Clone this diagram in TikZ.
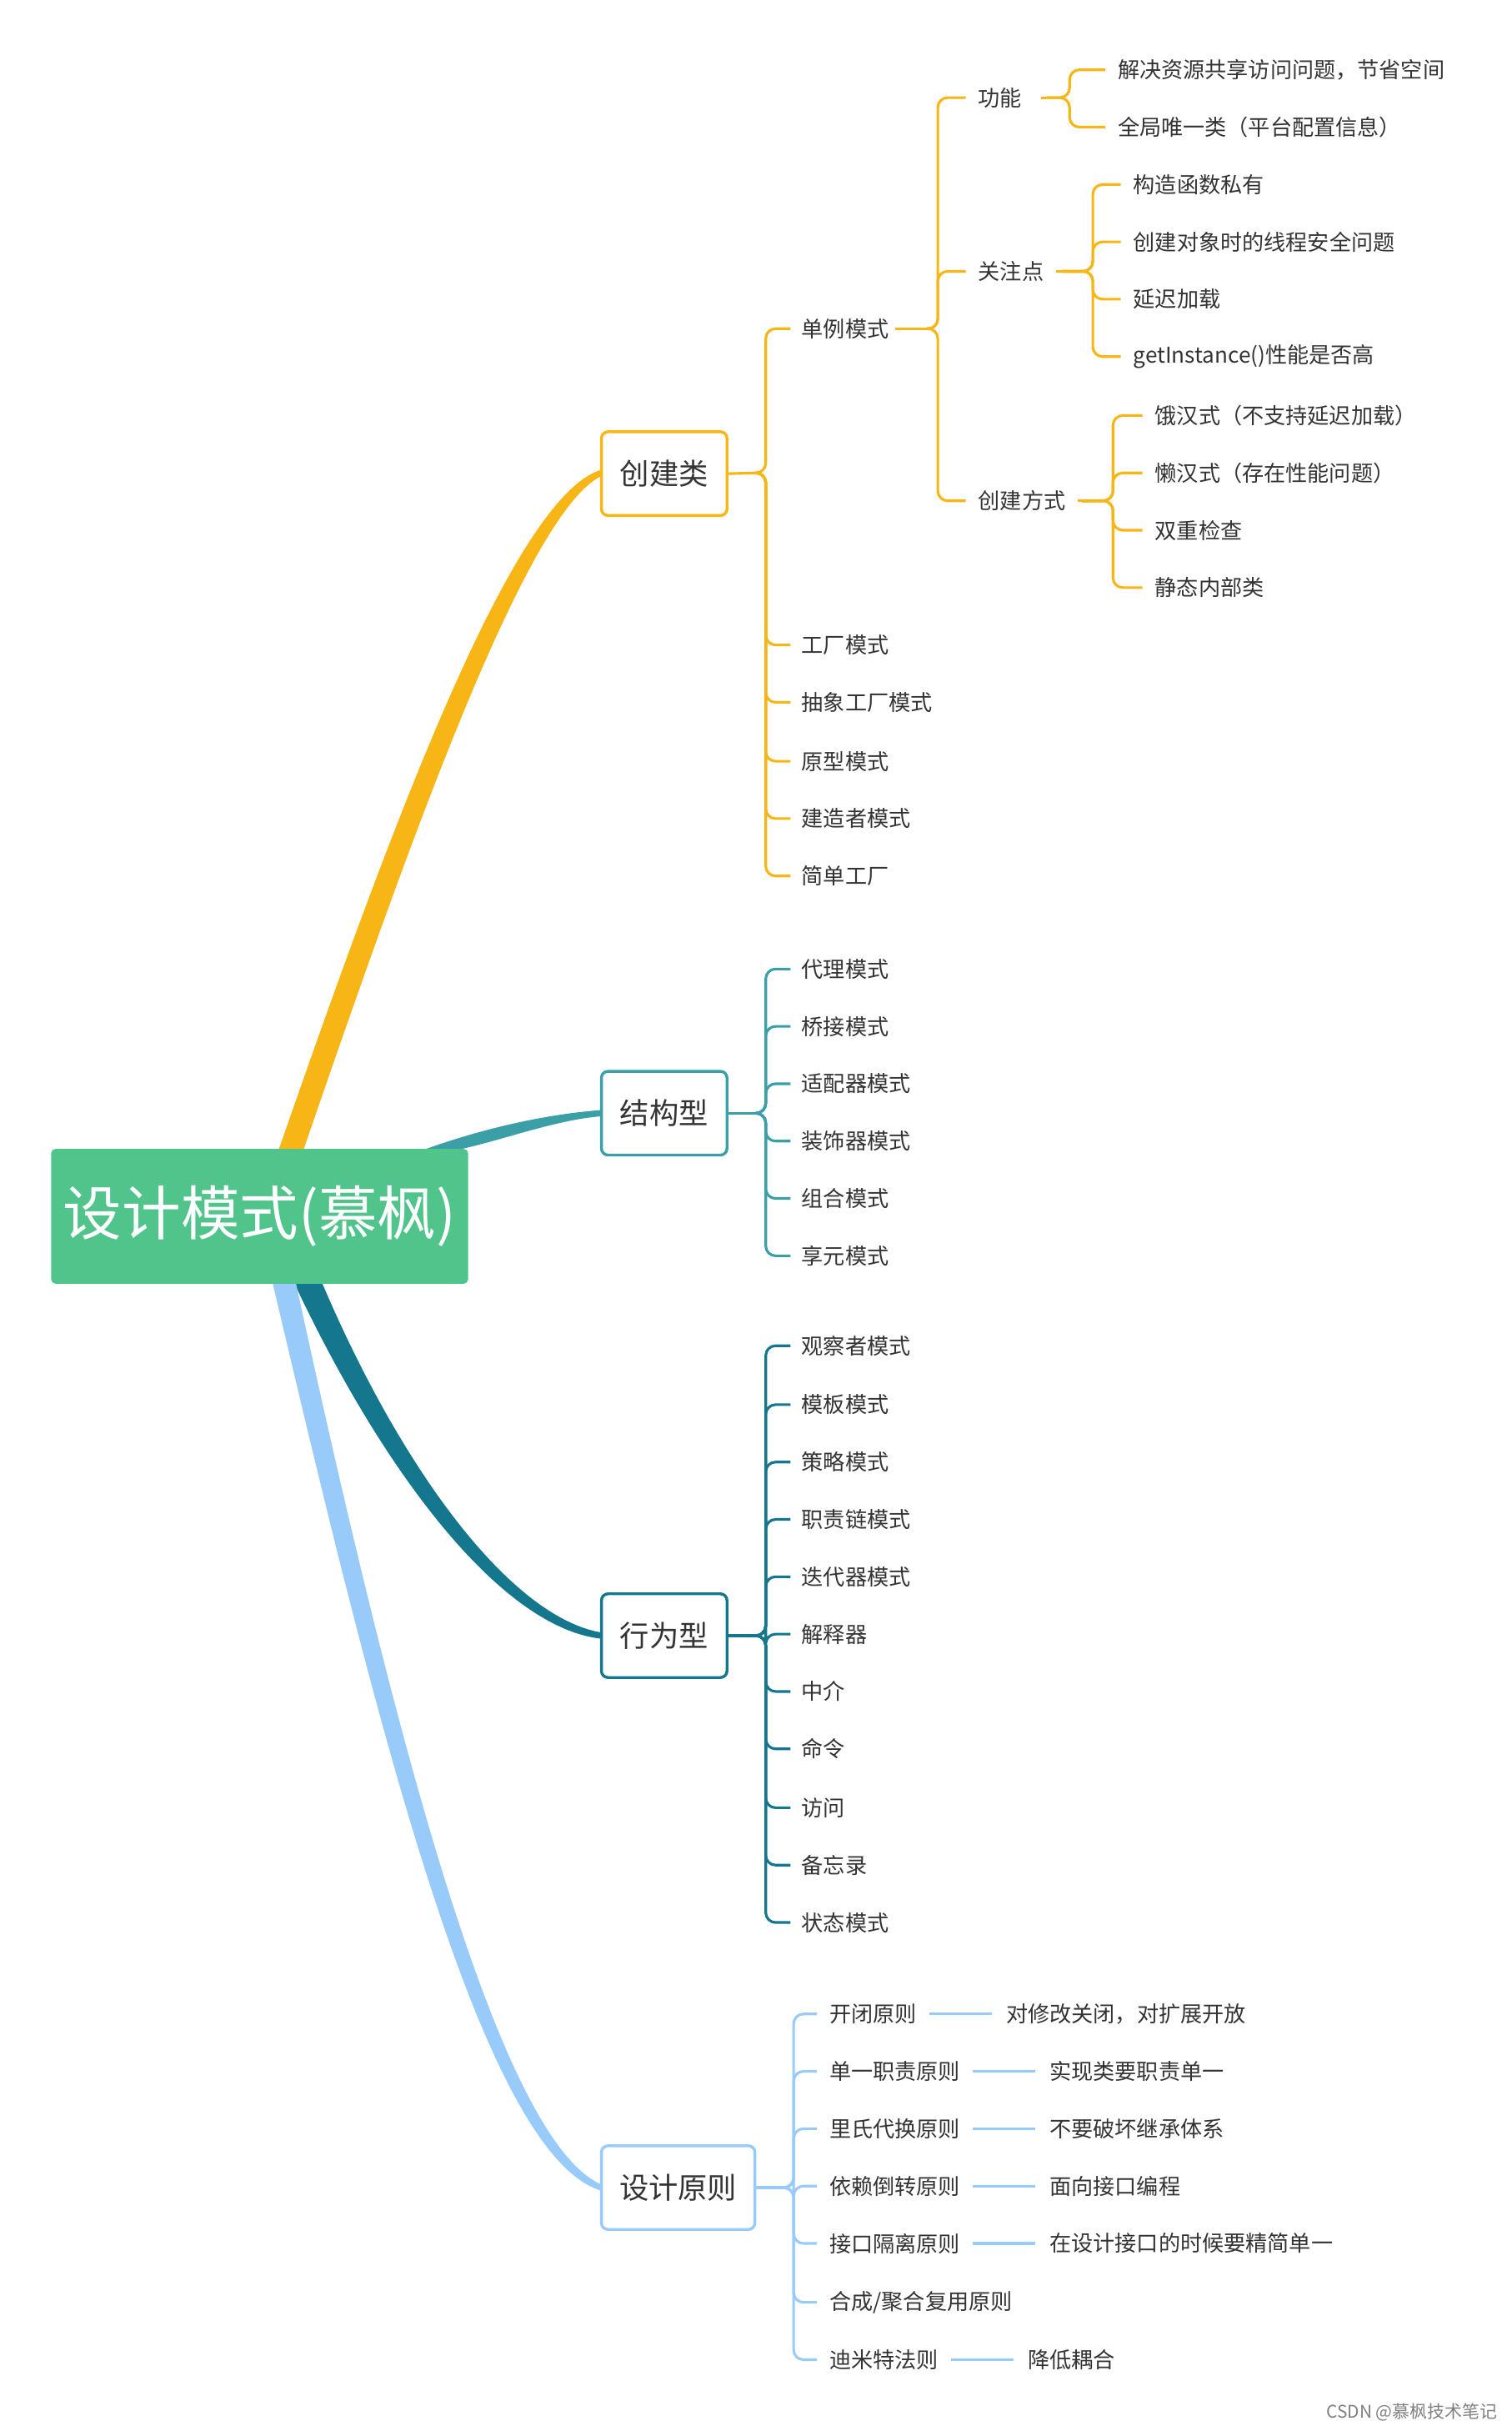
\documentclass[tikz,border=0pt]{standalone}
\usepackage{fontspec}
\setmainfont{Noto Sans CJK SC}
\usetikzlibrary{calc}
\definecolor{corange}{HTML}{F8B516}
\definecolor{cteal}{HTML}{3A9FA6}
\definecolor{cdark}{HTML}{15778E}
\definecolor{clight}{HTML}{99CBFA}
\definecolor{cgreen}{HTML}{51C48B}
\definecolor{ctext}{HTML}{333333}
\begin{document}
\begin{tikzpicture}[x=0.05cm,y=-0.05cm,
  leaf/.style={anchor=west,inner sep=0pt,text=ctext,font=\fontsize{20}{24}\selectfont},
  cat/.style={draw=#1,line width=2.6pt,rounded corners=6pt,text=ctext,minimum height=2.7cm,inner xsep=12pt,font=\fontsize{27}{32}\selectfont},
  br/.style={draw=#1,line width=2.4pt,rounded corners=9pt}]
\useasboundingbox (0,0) rectangle (975,1568);
% main branches
\fill[corange] (180,741) .. controls (250,540) and (330,320) .. (388,303) -- (388,307) .. controls (340,330) and (265,540) .. (196,741) -- cycle;
\fill[cteal] (275,741) .. controls (320,725) and (360,718) .. (388,716) -- (388,720) .. controls (360,722) and (325,735) .. (298,741) -- cycle;
\fill[cdark] (190,828) .. controls (250,955) and (325,1050) .. (388,1057) -- (388,1053) .. controls (330,1043) and (260,950) .. (208,828) -- cycle;
\fill[clight] (176,828) .. controls (240,1100) and (310,1390) .. (388,1413) -- (388,1409) .. controls (320,1380) and (250,1100) .. (191,828) -- cycle;
\node[fill=cgreen,rounded corners=4pt,minimum width=13.45cm,minimum height=4.35cm,text=white,font=\fontsize{54}{60}\selectfont] (root) at (167.5,784.5) {设计模式(慕枫)};
\node[cat=corange,minimum width=4.05cm] (A) at (428.5,305.5) {创建类};
\node[cat=cteal,minimum width=4.05cm] (B) at (428.5,718) {结构型};
\node[cat=cdark,minimum width=4.05cm] (C) at (428.5,1055) {行为型};
\node[cat=clight,minimum width=4.95cm] (D) at (437.5,1411) {设计原则};
% creational
\coordinate (fA) at (488,305);
\draw[br=corange] (A.east) -- (fA);
\foreach \y/\t [count=\i] in {212/单例模式,416/工厂模式,453/抽象工厂模式,491/原型模式,528/建造者模式,565/简单工厂}{
  \node[leaf] (a\i) at (517,\y) {\t};
  \draw[br=corange] (fA) -- ++(6,0) |- ($(a\i.west)+(-7,0)$);}
\coordinate (fS) at (598,212);
\draw[br=corange] (a1.east)++(4,0) -- (fS);
\node[leaf] (s1) at (631,63) {功能};
\node[leaf] (s2) at (631,175) {关注点};
\node[leaf] (s3) at (631,323) {创建方式};
\foreach \i in {1,2,3}{\draw[br=corange] (fS) -- ++(7,0) |- ($(s\i.west)+(-8,0)$);}
\coordinate (f1) at (675,63);
\draw[br=corange] ($(s1.east)+(12,0)$) -- (f1);
\foreach \y/\t [count=\i] in {45/解决资源共享访问问题，节省空间,82/全局唯一类（平台配置信息）}{
  \node[leaf] (g\i) at (721,\y) {\t};
  \draw[br=corange] (f1) -- ++(15,0) |- ($(g\i.west)+(-8,0)$);}
\coordinate (f2) at (685,175);
\draw[br=corange] ($(s2.east)+(8,0)$) -- (f2);
\foreach \y/\t [count=\i] in {119/构造函数私有,156/创建对象时的线程安全问题,193/延迟加载,230/getInstance()性能是否高}{
  \node[leaf] (h\i) at (731,\y) {\t};
  \draw[br=corange] (f2) -- ++(20,0) |- ($(h\i.west)+(-8,0)$);}
\coordinate (f3) at (698,323);
\draw[br=corange] ($(s3.east)+(8,0)$) -- (f3);
\foreach \y/\t [count=\i] in {268/饿汉式（不支持延迟加载）,305/懒汉式（存在性能问题）,342/双重检查,379/静态内部类}{
  \node[leaf] (k\i) at (745,\y) {\t};
  \draw[br=corange] (f3) -- ++(20,0) |- ($(k\i.west)+(-8,0)$);}
% structural
\coordinate (fB) at (488,718);
\draw[br=cteal] (B.east) -- (fB);
\foreach \y/\t [count=\i] in {625/代理模式,662/桥接模式,699/适配器模式,736/装饰器模式,773/组合模式,810/享元模式}{
  \node[leaf] (b\i) at (517,\y) {\t};
  \draw[br=cteal] (fB) -- ++(6,0) |- ($(b\i.west)+(-7,0)$);}
% behavioral
\coordinate (fC) at (488,1055);
\draw[br=cdark] (C.east) -- (fC);
\foreach \y/\t [count=\i] in {868/观察者模式,906/模板模式,943/策略模式,980/职责链模式,1017/迭代器模式,1054/解释器,1091/中介,1128/命令,1166/访问,1203/备忘录,1240/状态模式}{
  \node[leaf] (c\i) at (517,\y) {\t};
  \draw[br=cdark] (fC) -- ++(6,0) |- ($(c\i.west)+(-7,0)$);}
% principles
\coordinate (fD) at (505,1411);
\draw[br=clight] (D.east) -- (fD);
\foreach \y/\t [count=\i] in {1299/开闭原则,1336/单一职责原则,1373/里氏代换原则,1410/依赖倒转原则,1447/接口隔离原则,1485/{合成/聚合复用原则},1522/迪米特法则}{
  \node[leaf] (d\i) at (535,\y) {\t};
  \draw[br=clight] (fD) -- ++(7,0) |- ($(d\i.west)+(-8,0)$);}
\node[leaf] (e1) at (649,1299) {对修改关闭，对扩展开放};
\node[leaf] (e2) at (677,1336) {实现类要职责单一};
\node[leaf] (e3) at (677,1373) {不要破坏继承体系};
\node[leaf] (e4) at (677,1410) {面向接口编程};
\node[leaf] (e5) at (677,1447) {在设计接口的时候要精简单一};
\node[leaf] (e7) at (663,1522) {降低耦合};
\foreach \i in {1,2,3,4,5,7}{\draw[br=clight] ($(d\i.east)+(8,0)$) -- ($(e\i.west)+(-9,0)$);}
\node[anchor=east,inner sep=0pt,text=gray,font=\fontsize{16}{18}\selectfont] (foot) at (966,1556) {CSDN @慕枫技术笔记};
\end{tikzpicture}
\end{document}
